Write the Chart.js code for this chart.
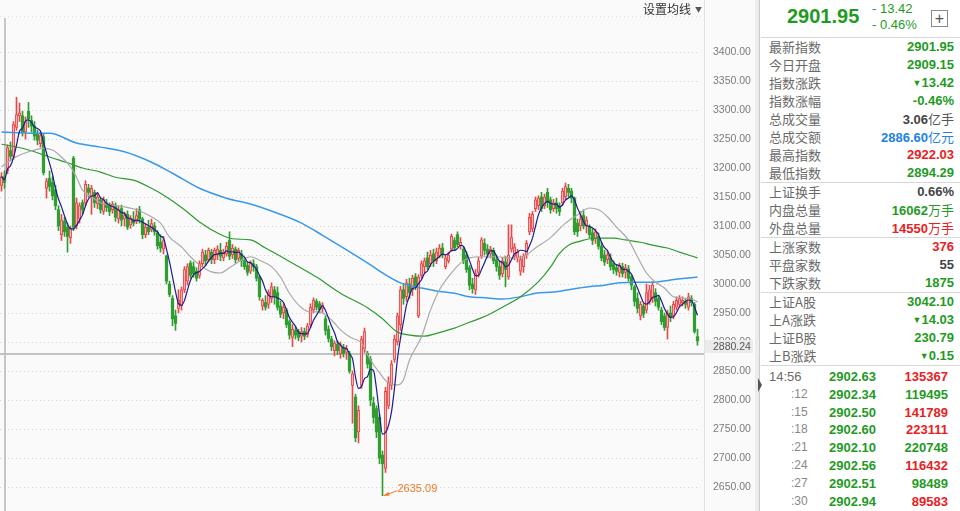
<!DOCTYPE html>
<html>
<head>
<meta charset="utf-8">
<script src="https://cdn.jsdelivr.net/npm/chart.js@4.4.1/dist/chart.umd.min.js"></script>
<style>
html, body { margin: 0; padding: 0; width: 960px; height: 511px; overflow: hidden; background: #fff; font-family: "Noto Sans CJK SC", "Liberation Sans", sans-serif; }
#chartBox { position: absolute; left: 0; top: 0; width: 757px; height: 511px; background: #fafafa; }
#maMenu { position: absolute; left: 643px; top: 0; height: 17px; line-height: 17px; font-size: 12px; color: #333; }
#maMenu span { font-size: 7px; color: #555; margin-left: 4px; vertical-align: 2px; }
#side { position: absolute; left: 755px; top: 0; width: 205px; height: 511px; background: #fff; }
#side .strip { position: absolute; left: 0; top: 0; width: 4px; height: 511px; background: #ececec; border-right: 1px solid #c9c9c9; }
#side .marker { position: absolute; left: 3px; top: 378px; width: 0; height: 0; border-top: 7px solid transparent; border-bottom: 7px solid transparent; border-left: 4px solid #555; }
#panel { position: absolute; left: 6px; top: 0; width: 199px; }
#head { position: relative; height: 37px; border-bottom: 1px solid #d8d8d8; }
#head .big { position: absolute; left: 26px; top: 5px; font: bold 20px "Liberation Sans", sans-serif; color: #1f9b1f; }
#head .chg { position: absolute; left: 111px; font: 13px "Liberation Sans", sans-serif; color: #1f9b1f; }
#head .plus { position: absolute; left: 170px; top: 10px; width: 15px; height: 15px; border: 1px solid #8a8a8a; color: #555; font: 16px/15px "Liberation Sans", sans-serif; text-align: center; }
.group { border-bottom: 1px solid #d8d8d8; }
.row { position: relative; height: 18px; line-height: 18px; font-size: 13px; }
.row .lab { position: absolute; left: 8px; color: #6a6a6a; }
.row .val { position: absolute; right: 6px; font-weight: bold; font-family: "Liberation Sans", sans-serif; }
.row .val .unit { font-weight: normal; font-family: "Noto Sans CJK SC", sans-serif; }
.row .val .tri { font-size: 9px; vertical-align: 1px; }
#ticks { padding-top: 2px; }
.trow { position: relative; height: 17.8px; line-height: 17.8px; font-size: 13px; }
.trow .t { position: absolute; color: #6a6a6a; font-family: "Liberation Sans", sans-serif; }
.trow .p { position: absolute; left: 68px; font-weight: bold; font-family: "Liberation Sans", sans-serif; color: #1f9b1f; }
.trow .v { position: absolute; right: 12px; font-weight: bold; font-family: "Liberation Sans", sans-serif; }
</style>
</head>
<body>
<div id="chartBox">
  <canvas id="kline" width="757" height="511"></canvas>
  <div id="maMenu">设置均线<span>▼</span></div>
</div>
<div id="side">
  <div class="strip"></div>
  <div class="marker"></div>
  <div id="panel">
    <div id="head"></div>
    <div id="rows"></div>
    <div id="ticks"></div>
  </div>
</div>
<script>
// daily candles, oldest first
const candleOpen = [3170,3185,3195,3230,3220,3270,3290,3290,3262,3298,3282,3272,3258,3242,3254,3165,3182,3175,3162,3128,
  3085,3108,3098,3080,3217,3100,3112,3140,3140,3165,3150,3158,3138,3145,3125,3140,3135,3128,3136,3112,
  3130,3112,3120,3102,3112,3108,3128,3112,3085,3098,3094,3100,3088,3072,3060,3048,3000,2975,2945,2958,
  2962,2990,3005,3036,3030,3022,3015,3035,3050,3042,3055,3042,3050,3058,3045,3052,3075,3050,3060,3044,
  3052,3040,3032,3022,3035,3030,3012,2962,2968,2965,2975,2990,2985,2962,2950,2955,2935,2908,2920,2918,
  2910,2918,2912,2930,2955,2970,2966,2958,2940,2922,2905,2885,2896,2880,2890,2882,2880,2825,2805,2745,
  2825,2888,2880,2870,2795,2785,2770,2705,2682,2790,2825,2870,2900,2930,2990,2978,3000,2990,3012,2945,
  3015,3030,3045,3035,3052,3040,3048,3062,3030,3040,3060,3075,3085,3066,3060,3050,3028,3000,2990,3020,
  3048,3070,3060,3052,3058,3042,3030,3018,3038,3012,3060,3048,3045,3022,3030,3050,3090,3095,3130,3135,
  3150,3135,3158,3145,3130,3140,3135,3140,3150,3165,3160,3148,3105,3100,3118,3100,3098,3088,3078,3082,
  3065,3050,3042,3045,3035,3028,3020,3030,3020,3026,3012,2995,2975,2945,2962,2955,2970,2975,2985,2975,
  2955,2945,2925,2950,2945,2960,2965,2968,2970,2960,2975,2965,2909.15];
const candleHigh = [3192,3195,3240,3245,3280,3322,3312,3298,3288,3313,3290,3280,3265,3262,3258,3182,3195,3185,3170,3135,
  3120,3115,3105,3100,3220,3148,3140,3145,3178,3172,3170,3162,3158,3150,3150,3146,3140,3142,3140,3135,
  3136,3124,3126,3118,3125,3130,3134,3115,3104,3110,3112,3106,3092,3085,3082,3050,3005,2980,2955,2990,
  2995,3030,3035,3040,3038,3028,3040,3060,3058,3062,3060,3062,3066,3070,3060,3072,3090,3068,3064,3062,
  3058,3046,3038,3040,3042,3034,3015,2975,2980,2990,3002,2996,2995,2970,2966,2958,2938,2930,2926,2922,
  2925,2924,2932,2966,2976,2974,2970,2968,2945,2928,2910,2902,2902,2900,2896,2894,2884,2850,2810,2790,
  2910,2924,2884,2875,2805,2790,2775,2712,2822,2840,2868,2912,2950,2996,3000,3008,3010,3015,3018,3016,
  3040,3045,3055,3058,3060,3062,3068,3070,3050,3055,3086,3080,3090,3080,3064,3056,3032,3010,3025,3046,
  3080,3078,3068,3065,3062,3050,3040,3046,3048,3102,3102,3070,3060,3048,3052,3075,3122,3125,3150,3152,
  3158,3155,3165,3150,3146,3148,3140,3165,3174,3172,3165,3150,3112,3125,3128,3116,3102,3095,3095,3088,
  3072,3058,3056,3052,3040,3034,3036,3036,3034,3032,3016,2998,2985,2970,2966,3000,2998,3004,2992,2980,
  2960,2950,2955,2962,2970,2978,2980,2978,2975,2984,2980,2968,2922.03];
const candleLow = [3160,3165,3190,3212,3215,3265,3280,3255,3250,3270,3262,3248,3240,3236,3188,3148,3160,3145,3128,3092,
  3075,3082,3055,3070,3092,3095,3105,3120,3135,3150,3120,3132,3130,3122,3120,3125,3118,3122,3108,3105,
  3100,3100,3094,3096,3100,3104,3105,3078,3080,3085,3090,3084,3060,3055,3052,3000,2978,2928,2920,2950,
  2955,2985,2998,3010,3012,3005,3010,3030,3032,3038,3035,3035,3042,3040,3040,3048,3042,3044,3036,3040,
  3030,3025,3015,3018,3022,3005,2972,2955,2955,2958,2968,2965,2955,2942,2940,2925,2905,2892,2905,2902,
  2900,2904,2908,2925,2950,2955,2950,2950,2912,2900,2885,2876,2878,2872,2874,2870,2846,2760,2728,2726,
  2820,2882,2855,2790,2760,2735,2690,2635.09,2675,2785,2818,2865,2895,2920,2965,2970,2975,2980,2990,2942,
  3010,3020,3025,3030,3030,3035,3045,3045,3026,3036,3056,3058,3064,3060,3035,3020,2990,2984,2982,3012,
  3044,3050,3045,3045,3035,3022,3008,3012,2995,3008,3055,3042,3038,3015,3020,3044,3085,3090,3125,3128,
  3125,3130,3132,3122,3125,3122,3118,3135,3145,3150,3140,3085,3082,3092,3095,3088,3080,3068,3070,3060,
  3040,3032,3035,3024,3018,3015,3012,3012,3010,3005,2990,2962,2950,2938,2942,2950,2965,2968,2962,2955,
  2930,2920,2905,2935,2940,2955,2960,2962,2958,2955,2962,2915,2894.29];
const candleClose = [3185,3175,3235,3220,3275,3292,3295,3262,3280,3285,3272,3255,3248,3256,3192,3178,3168,3152,3135,3100,
  3110,3090,3082,3095,3098,3140,3135,3128,3172,3158,3165,3140,3150,3128,3145,3132,3125,3138,3115,3128,
  3110,3118,3098,3112,3105,3118,3112,3085,3098,3090,3104,3090,3066,3062,3075,3005,2982,2940,2932,2972,
  2990,3025,3030,3015,3018,3010,3035,3055,3040,3058,3042,3058,3060,3048,3055,3065,3048,3062,3042,3058,
  3040,3030,3020,3036,3030,3010,2978,2972,2960,2985,2995,2978,2960,2948,2960,2930,2912,2922,2912,2908,
  2918,2910,2928,2960,2972,2960,2956,2964,2920,2906,2892,2898,2885,2894,2880,2888,2850,2845,2735,2782,
  2905,2918,2862,2800,2770,2745,2700,2690,2815,2830,2862,2905,2945,2990,2975,3002,2985,3010,2995,3012,
  3035,3040,3030,3050,3040,3055,3062,3050,3045,3050,3082,3062,3068,3072,3040,3025,2998,2992,3018,3040,
  3076,3058,3052,3060,3040,3030,3015,3040,3025,3050,3080,3064,3055,3042,3048,3070,3115,3120,3145,3148,
  3130,3150,3140,3128,3140,3130,3125,3160,3168,3158,3148,3090,3090,3112,3100,3110,3085,3075,3090,3065,
  3045,3038,3050,3030,3025,3022,3032,3018,3028,3010,2998,2970,2958,2965,2948,2985,2990,2998,2970,2960,
  2935,2925,2950,2942,2965,2972,2975,2972,2965,2978,2968,2918,2901.95];

// moving averages: [candle index, value]
const ma20 = [[0,3202],[4,3217],[9,3228],[14,3234],[17,3231],[20,3219],[23,3202],[25,3184],[27,3162],[30,3150],
  [33,3140],[36,3136],[41,3133],[45,3128],[50,3116],[53,3105],[56,3081],[60,3064],[63,3047],[66,3033],
  [70,3021],[73,3019],[76,3028],[80,3041],[83,3047],[86,3041],[90,3030],[93,3012],[96,2984],[100,2959],
  [103,2952],[106,2952],[110,2938],[113,2921],[116,2909],[120,2898],[123,2869],[126,2847],[129,2829],[132,2826],
  [134,2835],[136,2869],[140,2909],[143,2955],[146,2990],[150,3019],[153,3036],[156,3045],[160,3047],[165,3047],
  [170,3045],[174,3047],[178,3062],[183,3080],[188,3105],[192,3119],[196,3131],[199,3128],[202,3116],[205,3098],
  [209,3076],[212,3047],[215,3019],[218,3003],[221,2993],[224,2978],[227,2976],[231,2972],[232,2969]];
const ma60 = [[0,3241],[7,3234],[11,3228],[16,3219],[22,3209],[27,3200],[33,3193],[38,3184],[44,3179],[50,3165],
  [55,3150],[61,3128],[66,3107],[72,3088],[77,3078],[83,3076],[88,3062],[94,3045],[99,3030],[105,3012],
  [113,2984],[122,2959],[127,2940],[132,2917],[136,2912],[141,2910],[145,2915],[151,2924],[156,2934],[162,2946],
  [167,2960],[173,2978],[179,3004],[183,3029],[186,3053],[189,3067],[193,3074],[196,3078],[200,3079],[204,3079],
  [208,3076],[213,3072],[217,3067],[222,3062],[226,3055],[232,3045]];
const ma120 = [[0,3262],[11,3260],[16,3260],[25,3243],[33,3236],[41,3228],[50,3210],[57,3191],[66,3165],[75,3148],
  [83,3138],[92,3122],[100,3105],[107,3084],[115,3059],[120,3043],[123,3033],[127,3019],[133,3002],[140,2993],
  [145,2988],[151,2984],[156,2978],[162,2976],[167,2974],[173,2978],[178,2984],[184,2986],[190,2991],[195,2995],
  [201,2998],[206,3002],[212,3003],[217,3003],[223,3007],[232,3012]];

const yTicks = [2650,2700,2750,2800,2850,2900,2950,3000,3050,3100,3150,3200,3250,3300,3350,3400];
const markLevel = 2880.24;
const lowMark = { index: 127, value: 2635.09 };

// side panel
const quoteHead = { price: '2901.95', change: '- 13.42', pct: '- 0.46%' };
const quoteGroups = [
  [['最新指数','2901.95','','g'],['今日开盘','2909.15','','g'],['指数涨跌','▼13.42','','g'],['指数涨幅','-0.46%','','g'],
   ['总成交量','3.06','亿手','k'],['总成交额','2886.60','亿元','b'],['最高指数','2922.03','','r'],['最低指数','2894.29','','g']],
  [['上证换手','0.66%','','k'],['内盘总量','16062','万手','g'],['外盘总量','14550','万手','r']],
  [['上涨家数','376','','r'],['平盘家数','55','','k'],['下跌家数','1875','','g']],
  [['上证A股','3042.10','','g'],['上A涨跌','▼14.03','','g'],['上证B股','230.79','','g'],['上B涨跌','▼0.15','','g']]
];
const tickTimes = ['14:56',':12',':15',':18',':21',':24',':27',':30'];
const tickPrices = ['2902.63','2902.34','2902.50','2902.60','2902.10','2902.56','2902.51','2902.94'];
const tickVols = ['135367','119495','141789','223111','220748','116432','98489','89583'];
const tickVolColor = ['r','g','r','r','g','r','g','r'];

const COLORS = { g: '#1f9b1f', r: '#e8211d', b: '#2083e0', k: '#444' };
const RED = '#e8484a', PINK = '#f6b3b3', GREEN = '#2f9d2f';

document.getElementById('head').innerHTML =
  '<div class="big">' + quoteHead.price + '</div>' +
  '<div class="chg" style="top:1px">' + quoteHead.change + '</div>' +
  '<div class="chg" style="top:17px">' + quoteHead.pct + '</div>' +
  '<div class="plus">+</div>';

let html = '';
quoteGroups.forEach(group => {
  html += '<div class="group">';
  group.forEach(([lab, val, unit, c]) => {
    let v = val.startsWith('▼') ? '<span class="tri">▼</span>' + val.slice(1) : val;
    let unitColor = c === 'k' ? '#555' : COLORS[c];
    html += '<div class="row"><span class="lab">' + lab + '</span><span class="val" style="color:' + COLORS[c] + '">' + v +
      (unit ? '<span class="unit" style="color:' + unitColor + '">' + unit + '</span>' : '') + '</span></div>';
  });
  html += '</div>';
});
document.getElementById('rows').innerHTML = html;

let th = '';
tickTimes.forEach((t, i) => {
  const tStyle = i === 0 ? 'left:8px' : 'left:30px;font-size:12px;color:#888';
  th += '<div class="trow"><span class="t" style="' + tStyle + '">' + t + '</span>' +
    '<span class="p">' + tickPrices[i] + '</span>' +
    '<span class="v" style="color:' + COLORS[tickVolColor[i]] + '">' + tickVols[i] + '</span></div>';
});
document.getElementById('ticks').innerHTML = th;

// chart
const idx = candleClose.map((_, i) => i);
const ma5 = candleClose.map((_, i) => {
  const s = candleClose.slice(Math.max(0, i - 4), i + 1);
  return s.reduce((a, b) => a + b, 0) / s.length;
});
const up = candleClose.map((c, i) => c >= candleOpen[i]);
const toPts = arr => arr.map(([i, v]) => ({ x: i, y: v }));

const decor = {
  id: 'decor',
  beforeDatasetsDraw(chart) {
    const { ctx, chartArea: a, scales: { y } } = chart;
    ctx.save();
    ctx.strokeStyle = '#cfcfcf';
    ctx.lineWidth = 1;
    ctx.setLineDash([1, 3]);
    yTicks.forEach(v => {
      const py = Math.round(y.getPixelForValue(v)) + 0.5;
      ctx.beginPath(); ctx.moveTo(a.left, py); ctx.lineTo(a.right - 4, py); ctx.stroke();
    });
    ctx.strokeStyle = '#e2e2e2';
    ctx.beginPath(); ctx.moveTo(0, 16.5); ctx.lineTo(a.right, 16.5); ctx.stroke();
    ctx.setLineDash([]);
    ctx.fillStyle = '#c6c6c6';
    ctx.fillRect(4, 18, 2, 493);
    const py = Math.round(y.getPixelForValue(markLevel));
    ctx.fillStyle = '#c2c2c2';
    ctx.fillRect(0, py, a.right, 2);
    ctx.restore();
  },
  afterDraw(chart) {
    const { ctx, chartArea: a, scales: { x, y } } = chart;
    ctx.save();
    ctx.fillStyle = '#e2e2e2';
    ctx.fillRect(a.right, 0, 1, 511);
    const py = Math.round(y.getPixelForValue(markLevel));
    ctx.fillStyle = '#ebebeb';
    ctx.fillRect(a.right + 1, py - 13, 48, 13);
    ctx.fillStyle = '#555';
    ctx.font = '10.5px "Liberation Sans"';
    ctx.textBaseline = 'middle';
    ctx.fillText(markLevel.toFixed(2), a.right + 9, py - 6);
    // lowest point marker
    const lx = x.getPixelForValue(lowMark.index), ly = y.getPixelForValue(lowMark.value);
    ctx.strokeStyle = '#f07a2a';
    ctx.fillStyle = '#f07a2a';
    ctx.lineWidth = 1;
    ctx.beginPath(); ctx.moveTo(lx + 1, ly); ctx.lineTo(lx + 15, ly - 5); ctx.stroke();
    ctx.beginPath(); ctx.moveTo(lx + 1, ly); ctx.lineTo(lx + 6, ly - 4); ctx.lineTo(lx + 7, ly); ctx.closePath(); ctx.fill();
    ctx.font = '11px "Liberation Sans"';
    ctx.fillText(lowMark.value.toFixed(2), lx + 15, ly - 7);
    ctx.restore();
  }
};

new Chart(document.getElementById('kline'), {
  type: 'bar',
  data: {
    datasets: [
      { type: 'line', label: 'MA5', data: idx.map(i => ({ x: i, y: ma5[i] })), borderColor: '#1c1c90', borderWidth: 1.2,
        pointRadius: 0, cubicInterpolationMode: 'monotone', order: 0 },
      { type: 'line', label: 'MA20', data: toPts(ma20), borderColor: '#a9a9a9', borderWidth: 1.2,
        pointRadius: 0, cubicInterpolationMode: 'monotone', order: 1 },
      { type: 'line', label: 'MA60', data: toPts(ma60), borderColor: '#2f9a2f', borderWidth: 1.2,
        pointRadius: 0, cubicInterpolationMode: 'monotone', order: 2 },
      { type: 'line', label: 'MA120', data: toPts(ma120), borderColor: '#3a98e8', borderWidth: 1.5,
        pointRadius: 0, cubicInterpolationMode: 'monotone', order: 3 },
      { label: 'body', data: idx.map(i => ({ x: i, y: [candleOpen[i], candleClose[i]] })),
        backgroundColor: up.map(u => u ? PINK : GREEN), borderColor: up.map(u => u ? RED : GREEN),
        borderWidth: up.map(u => u ? 1 : 0), borderSkipped: false, barThickness: 2.6, minBarLength: 1,
        grouped: false, order: 4 },
      { label: 'wick', data: idx.map(i => ({ x: i, y: [candleLow[i], candleHigh[i]] })),
        backgroundColor: up.map(u => u ? RED : GREEN), barThickness: 1, grouped: false, order: 5 }
    ]
  },
  options: {
    responsive: false,
    animation: false,
    layout: { padding: { top: 17, left: 0, right: 0, bottom: 0 } },
    plugins: { legend: { display: false }, tooltip: { enabled: false } },
    scales: {
      x: { type: 'linear', min: -0.5, max: 234.17, display: false, offset: false },
      y: {
        position: 'right', min: 2608.62, max: 3460.34,
        grid: { display: false, drawTicks: false }, border: { display: false },
        afterBuildTicks: s => { s.ticks = yTicks.map(v => ({ value: v })); },
        afterFit: s => { s.width = 53; s.paddingTop = 0; s.paddingBottom = 0; },
        ticks: { padding: 9, color: '#7c7c7c', font: { family: 'Liberation Sans', size: 10.5 },
          callback: v => Number(v).toFixed(2) }
      }
    }
  },
  plugins: [decor]
});
</script>
</body>
</html>
